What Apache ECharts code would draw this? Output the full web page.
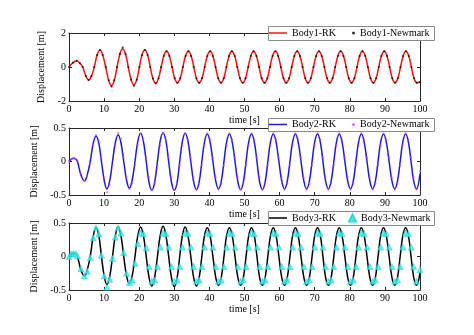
<!DOCTYPE html>
<html><head><meta charset="utf-8">
<script src="https://cdn.jsdelivr.net/npm/echarts@6/dist/echarts.min.js"></script>
<style>html,body{margin:0;padding:0;background:#fff}#c{width:474px;height:335px}</style>
</head><body><div id="c"></div><script>
// ---- data ----
const xTickInterval = 10;
const seriesNames = ['Body1-RK','Body1-Newmark','Body2-RK','Body2-Newmark','Body3-RK','Body3-Newmark'];

// Body 1 sample times [s]
const t1 = [
 0, 1.1, 2.2, 3.1, 3.9, 4.8, 5.6, 6.4, 7.2, 8.0,
 8.8, 9.6, 10.45, 11.3,
 12.1, 12.9, 13.7, 14.5,
 15.3, 16.1, 16.9, 17.7,
 18.5, 19.3, 20.05, 20.8,
 21.6, 22.4, 23.15, 23.9,
 24.7, 25.5, 26.25, 27.0,
 27.8, 28.6, 29.35, 30.1,
 30.9, 31.7, 32.45, 33.2,
 34.0, 34.8, 35.55, 36.3,
 37.1, 37.9, 38.65, 39.4,
 40.2, 41.0, 41.75, 42.5,
 43.3, 44.1, 44.85, 45.6,
 46.4, 47.2, 47.95, 48.7,
 49.5, 50.3, 51.05, 51.8,
 52.6, 53.4, 54.15, 54.9,
 55.7, 56.5, 57.25, 58.0,
 58.8, 59.6, 60.35, 61.1,
 61.9, 62.7, 63.45, 64.2,
 65.0, 65.8, 66.55, 67.3,
 68.1, 68.9, 69.65, 70.4,
 71.2, 72.0, 72.75, 73.5,
 74.3, 75.1, 75.85, 76.6,
 77.4, 78.2, 78.95, 79.7,
 80.5, 81.3, 82.05, 82.8,
 83.6, 84.4, 85.15, 85.9,
 86.7, 87.5, 88.25, 89.0,
 89.8, 90.6, 91.35, 92.1,
 92.9, 93.7, 94.45, 95.2,
 96.0, 96.8, 97.55, 98.3,
 99.1, 100
];
const rk1 = [
 0, 0.25, 0.37, 0.22, 0, -0.53, -0.76, -0.53, 0, 0.7,
 1.0, 0.71, 0, -0.78,
 -1.1, -0.78, 0, 0.77,
 1.08, 0.77, 0, -0.75,
 -1.05, -0.75, 0, 0.71,
 1.0, 0.71, 0, -0.68,
 -0.96, -0.68, 0, 0.65,
 0.92, 0.65, 0, -0.66,
 -0.93, -0.66, 0, 0.65,
 0.92, 0.65, 0, -0.66,
 -0.93, -0.66, 0, 0.65,
 0.92, 0.65, 0, -0.66,
 -0.93, -0.66, 0, 0.65,
 0.92, 0.65, 0, -0.66,
 -0.93, -0.66, 0, 0.65,
 0.92, 0.65, 0, -0.66,
 -0.93, -0.66, 0, 0.65,
 0.92, 0.65, 0, -0.66,
 -0.93, -0.66, 0, 0.65,
 0.92, 0.65, 0, -0.66,
 -0.93, -0.66, 0, 0.65,
 0.92, 0.65, 0, -0.66,
 -0.93, -0.66, 0, 0.65,
 0.92, 0.65, 0, -0.66,
 -0.93, -0.66, 0, 0.65,
 0.92, 0.65, 0, -0.66,
 -0.93, -0.66, 0, 0.65,
 0.92, 0.65, 0, -0.66,
 -0.93, -0.66, 0, 0.65,
 0.92, 0.65, 0, -0.66,
 -0.93, -0.88
];
const nm1 = [
 0, 0.25, 0.37, 0.22, 0, -0.53, -0.76, -0.53, 0, 0.7,
 1.0, 0.71, 0, -0.78,
 -1.14, -0.78, 0, 0.77,
 1.14, 0.77, 0, -0.75,
 -1.1, -0.75, 0, 0.71,
 1.0, 0.71, 0, -0.68,
 -0.96, -0.68, 0, 0.65,
 0.92, 0.65, 0, -0.66,
 -0.93, -0.66, 0, 0.65,
 0.92, 0.65, 0, -0.66,
 -0.93, -0.66, 0, 0.65,
 0.92, 0.65, 0, -0.66,
 -0.93, -0.66, 0, 0.65,
 0.92, 0.65, 0, -0.66,
 -0.93, -0.66, 0, 0.65,
 0.92, 0.65, 0, -0.66,
 -0.93, -0.66, 0, 0.65,
 0.92, 0.65, 0, -0.66,
 -0.93, -0.66, 0, 0.65,
 0.92, 0.65, 0, -0.66,
 -0.93, -0.66, 0, 0.65,
 0.92, 0.65, 0, -0.66,
 -0.93, -0.66, 0, 0.65,
 0.92, 0.65, 0, -0.66,
 -0.93, -0.66, 0, 0.65,
 0.92, 0.65, 0, -0.66,
 -0.93, -0.66, 0, 0.65,
 0.92, 0.65, 0, -0.66,
 -0.93, -0.66, 0, 0.65,
 0.92, 0.65, 0, -0.66,
 -0.93, -0.88
];

// Body 2 and 3 sample times [s]
const t23 = [
 0, 0.65, 1.3, 1.9, 2.4, 3.4, 4.4, 5.2, 6.05, 6.9,
 7.7, 8.5, 9.25, 10.05,
 10.8, 11.6, 12.4, 13.2,
 14.0, 14.8, 15.6, 16.4,
 17.2, 18.0, 18.8, 19.6,
 20.4, 21.2, 22.0, 22.8,
 23.6, 24.4, 25.2, 26.0,
 26.8, 27.6, 28.4, 29.2,
 30.0, 30.8, 31.55, 32.3,
 33.1, 33.9, 34.7, 35.5,
 36.3, 37.1, 37.85, 38.6,
 39.4, 40.2, 41.0, 41.8,
 42.6, 43.4, 44.15, 44.9,
 45.7, 46.5, 47.3, 48.1,
 48.9, 49.7, 50.45, 51.2,
 52.0, 52.8, 53.55, 54.3,
 55.1, 55.9, 56.65, 57.4,
 58.2, 59.0, 59.8, 60.6,
 61.4, 62.2, 62.95, 63.7,
 64.5, 65.3, 66.1, 66.9,
 67.7, 68.5, 69.25, 70.0,
 70.8, 71.6, 72.35, 73.1,
 73.9, 74.7, 75.45, 76.2,
 77.0, 77.8, 78.6, 79.4,
 80.2, 81.0, 81.75, 82.5,
 83.3, 84.1, 84.9, 85.7,
 86.5, 87.3, 88.05, 88.8,
 89.6, 90.4, 91.2, 92.0,
 92.8, 93.6, 94.35, 95.1,
 95.9, 96.7, 97.45, 98.2,
 99.0, 100
];
const rk2 = [
 0, 0.035, 0.05, 0.035, 0, -0.2, -0.29, -0.2, 0, 0.27,
 0.38, 0.27, 0, -0.29,
 -0.41, -0.29, 0, 0.28,
 0.40, 0.28, 0, -0.28,
 -0.40, -0.28, 0, 0.30,
 0.42, 0.30, 0, -0.31,
 -0.43, -0.31, 0, 0.31,
 0.43, 0.31, 0, -0.31,
 -0.43, -0.31, 0, 0.30,
 0.42, 0.30, 0, -0.30,
 -0.42, -0.30, 0, 0.29,
 0.41, 0.29, 0, -0.29,
 -0.41, -0.29, 0, 0.29,
 0.41, 0.29, 0, -0.30,
 -0.42, -0.30, 0, 0.29,
 0.41, 0.29, 0, -0.30,
 -0.42, -0.30, 0, 0.29,
 0.41, 0.29, 0, -0.29,
 -0.41, -0.29, 0, 0.29,
 0.41, 0.29, 0, -0.29,
 -0.41, -0.29, 0, 0.29,
 0.41, 0.29, 0, -0.29,
 -0.41, -0.29, 0, 0.29,
 0.41, 0.29, 0, -0.29,
 -0.41, -0.29, 0, 0.29,
 0.41, 0.29, 0, -0.29,
 -0.41, -0.29, 0, 0.29,
 0.41, 0.29, 0, -0.29,
 -0.41, -0.29, 0, 0.29,
 0.41, 0.29, 0, -0.29,
 -0.41, -0.18
];
const nm2 = [
 0, 0.03, 0.05, 0.04, 0.01, -0.18, -0.29, -0.22, -0.03, 0.25,
 0.39, 0.31, 0.05, -0.24,
 -0.46, -0.35, -0.06, 0.25,
 0.43, 0.34, 0.06, -0.24,
 -0.41, -0.33, -0.06, 0.25,
 0.42, 0.33, 0.06, -0.24,
 -0.42, -0.33, -0.06, 0.24,
 0.42, 0.33, 0.06, -0.24,
 -0.42, -0.33, -0.06, 0.24,
 0.42, 0.33, 0.06, -0.24,
 -0.42, -0.33, -0.06, 0.24,
 0.42, 0.33, 0.06, -0.24,
 -0.42, -0.33, -0.06, 0.24,
 0.42, 0.33, 0.06, -0.24,
 -0.42, -0.33, -0.06, 0.24,
 0.42, 0.33, 0.06, -0.24,
 -0.42, -0.33, -0.06, 0.24,
 0.42, 0.33, 0.06, -0.24,
 -0.42, -0.33, -0.06, 0.24,
 0.42, 0.33, 0.06, -0.24,
 -0.42, -0.33, -0.06, 0.24,
 0.42, 0.33, 0.06, -0.24,
 -0.42, -0.33, -0.06, 0.24,
 0.42, 0.33, 0.06, -0.24,
 -0.42, -0.33, -0.06, 0.24,
 0.42, 0.33, 0.06, -0.24,
 -0.42, -0.33, -0.06, 0.24,
 0.42, 0.33, 0.06, -0.24,
 -0.42, -0.33, -0.06, 0.24,
 0.42, 0.33, 0.06, -0.24,
 -0.42, -0.15
];
const rk3 = [
 0, 0.04, 0.05, 0.035, 0, -0.2, -0.29, -0.2, 0, 0.30,
 0.43, 0.31, 0, -0.30,
 -0.42, -0.30, 0, 0.31,
 0.44, 0.31, 0, -0.29,
 -0.41, -0.29, 0, 0.31,
 0.44, 0.31, 0, -0.31,
 -0.44, -0.31, 0, 0.32,
 0.45, 0.32, 0, -0.32,
 -0.45, -0.32, 0, 0.31,
 0.44, 0.31, 0, -0.31,
 -0.44, -0.31, 0, 0.31,
 0.43, 0.31, 0, -0.31,
 -0.43, -0.31, 0, 0.31,
 0.43, 0.31, 0, -0.31,
 -0.43, -0.31, 0, 0.31,
 0.43, 0.31, 0, -0.31,
 -0.43, -0.31, 0, 0.31,
 0.43, 0.31, 0, -0.31,
 -0.43, -0.31, 0, 0.31,
 0.43, 0.31, 0, -0.31,
 -0.43, -0.31, 0, 0.31,
 0.43, 0.31, 0, -0.31,
 -0.43, -0.31, 0, 0.31,
 0.43, 0.31, 0, -0.31,
 -0.43, -0.31, 0, 0.31,
 0.43, 0.31, 0, -0.31,
 -0.43, -0.31, 0, 0.31,
 0.43, 0.31, 0, -0.31,
 -0.43, -0.31, 0, 0.31,
 0.43, 0.31, 0, -0.31,
 -0.43, -0.24
];
const nm3 = [
 0, 0.04, 0.05, 0.04, 0.01, -0.18, -0.29, -0.22, -0.02, 0.28,
 0.43, 0.34, 0.02, -0.29,
 -0.46, -0.34, -0.03, 0.29,
 0.43, 0.35, 0.06, -0.25,
 -0.39, -0.35, -0.10, 0.19,
 0.35, 0.34, 0.13, -0.15,
 -0.37, -0.35, -0.15, 0.14,
 0.35, 0.34, 0.14, -0.15,
 -0.37, -0.35, -0.15, 0.14,
 0.35, 0.34, 0.14, -0.15,
 -0.37, -0.35, -0.15, 0.14,
 0.35, 0.34, 0.14, -0.15,
 -0.37, -0.35, -0.15, 0.14,
 0.35, 0.34, 0.14, -0.15,
 -0.37, -0.35, -0.15, 0.14,
 0.35, 0.34, 0.14, -0.15,
 -0.37, -0.35, -0.15, 0.14,
 0.35, 0.34, 0.14, -0.15,
 -0.37, -0.35, -0.15, 0.14,
 0.35, 0.34, 0.14, -0.15,
 -0.37, -0.35, -0.15, 0.14,
 0.35, 0.34, 0.14, -0.15,
 -0.37, -0.35, -0.15, 0.14,
 0.35, 0.34, 0.14, -0.15,
 -0.37, -0.35, -0.15, 0.14,
 0.35, 0.34, 0.14, -0.15,
 -0.37, -0.35, -0.15, 0.14,
 0.35, 0.34, 0.14, -0.15,
 -0.37, -0.35, -0.15, 0.14,
 0.35, 0.34, 0.14, -0.15,
 -0.37, -0.2
];
const yRanges = [[-2, 2, 2], [-0.5, 0.5, 0.5], [-0.5, 0.5, 0.5]];

// ---- chart ----
const FONT = 'Liberation Serif';
const pairs = (ts, vs) => ts.map((t, i) => [t, vs[i]]);
const gridsPx = [
  {left: 69, top: 33, width: 351, height: 68},
  {left: 69, top: 128, width: 351, height: 67},
  {left: 69, top: 223, width: 351, height: 67}
];
const lineCol = '#262626';
const txt = {fontFamily: FONT, fontSize: 10, color: '#000'};
const xAxes = [], yAxes = [];
for (let i = 0; i < 3; i++) {
  xAxes.push({gridIndex: i, type: 'value', min: 0, max: 100, interval: xTickInterval, position: 'bottom',
    name: 'time [s]', nameLocation: 'middle', nameGap: 13, nameTextStyle: txt,
    axisLine: {show: true, onZero: false, lineStyle: {color: lineCol, width: 1}},
    axisTick: {show: true, inside: true, length: 3, lineStyle: {color: lineCol}},
    axisLabel: Object.assign({margin: 3}, txt), splitLine: {show: false}});
}
for (let i = 0; i < 3; i++) {
  xAxes.push({gridIndex: i, type: 'value', min: 0, max: 100, interval: xTickInterval, position: 'top',
    axisLine: {show: true, onZero: false, lineStyle: {color: lineCol, width: 1}},
    axisTick: {show: true, inside: true, length: 3, lineStyle: {color: lineCol}},
    axisLabel: {show: false}, splitLine: {show: false}});
}
for (let i = 0; i < 3; i++) {
  const r = yRanges[i];
  yAxes.push({gridIndex: i, type: 'value', min: r[0], max: r[1], interval: r[2], position: 'left',
    name: 'Displacement [m]', nameLocation: 'middle', nameGap: 15, nameRotate: 90, nameTextStyle: txt,
    axisLine: {show: true, onZero: false, lineStyle: {color: lineCol, width: 1}},
    axisTick: {show: true, inside: true, length: 3, lineStyle: {color: lineCol}},
    axisLabel: Object.assign({margin: 3}, txt), splitLine: {show: false}});
}
for (let i = 0; i < 3; i++) {
  const r = yRanges[i];
  yAxes.push({gridIndex: i, type: 'value', min: r[0], max: r[1], interval: r[2], position: 'right',
    axisLine: {show: true, onZero: false, lineStyle: {color: lineCol, width: 1}},
    axisTick: {show: true, inside: true, length: 3, lineStyle: {color: lineCol}},
    axisLabel: {show: false}, splitLine: {show: false}});
}
const legendTops = [26, 118, 211];
const boxH = [14, 13, 14];
const legendTxt = Object.assign({}, txt);
const legends = [], boxes = [];
const nmIcons = [{w: 3, h: 3}, {w: 3, h: 3}, {w: 7, h: 7}];
const lineIcon = 'path://M0,0H36V3H0Z';
for (let i = 0; i < 3; i++) {
  legends.push({data: [{name: seriesNames[2*i], icon: lineIcon}], left: 269, top: legendTops[i], padding: 0,
    itemWidth: 18, itemHeight: boxH[i],
    selectedMode: false, z: 20, textStyle: Object.assign({lineHeight: boxH[i]}, legendTxt)});
  legends.push({data: [seriesNames[2*i+1]], left: 352 - (nmIcons[i].w - 3), top: legendTops[i], padding: 0,
    itemWidth: nmIcons[i].w, itemHeight: nmIcons[i].h,
    selectedMode: false, z: 20, textStyle: Object.assign({lineHeight: boxH[i]}, legendTxt)});
  boxes.push({type: 'rect', z: 10, shape: {x: 268.5, y: legendTops[i] + 0.5, width: 166, height: boxH[i]},
    style: {fill: '#fff', stroke: '#8a8a8a', lineWidth: 1}});
}
const option = {
  animation: false,
  backgroundColor: '#fff',
  grid: gridsPx,
  xAxis: xAxes,
  yAxis: yAxes,
  legend: legends,
  graphic: boxes,
  series: [
    {type: 'line', name: seriesNames[0], xAxisIndex: 0, yAxisIndex: 0, data: pairs(t1, rk1), smooth: 0.4,
     symbol: 'none', lineStyle: {color: '#ff1010', width: 1.5}, itemStyle: {color: '#ff1010'}, z: 2},
    {type: 'scatter', name: seriesNames[1], xAxisIndex: 0, yAxisIndex: 0, data: pairs(t1, nm1),
     symbol: 'circle', symbolSize: 2, itemStyle: {color: '#000'}, z: 3},
    {type: 'line', name: seriesNames[2], xAxisIndex: 1, yAxisIndex: 1, data: pairs(t23, rk2), smooth: 0.4,
     symbol: 'none', lineStyle: {color: '#1c1cd8', width: 1.5}, itemStyle: {color: '#1c1cd8'}, z: 2},
    {type: 'scatter', name: seriesNames[3], xAxisIndex: 1, yAxisIndex: 1, data: pairs(t23, nm2),
     symbol: 'circle', symbolSize: 2, itemStyle: {color: '#e040e8', opacity: 0.8}, z: 3},
    {type: 'line', name: seriesNames[4], xAxisIndex: 2, yAxisIndex: 2, data: pairs(t23, rk3), smooth: 0.4,
     symbol: 'none', lineStyle: {color: '#000', width: 1.5}, itemStyle: {color: '#000'}, z: 2},
    {type: 'scatter', name: seriesNames[5], xAxisIndex: 2, yAxisIndex: 2, data: pairs(t23, nm3),
     symbol: 'triangle', symbolSize: 6, itemStyle: {color: '#3ee8e8', borderColor: '#10d0d0', borderWidth: 0.6}, z: 3}
  ]
};
const chart = echarts.init(document.getElementById('c'), null, {renderer: 'canvas'});
chart.setOption(option);
</script></body></html>
